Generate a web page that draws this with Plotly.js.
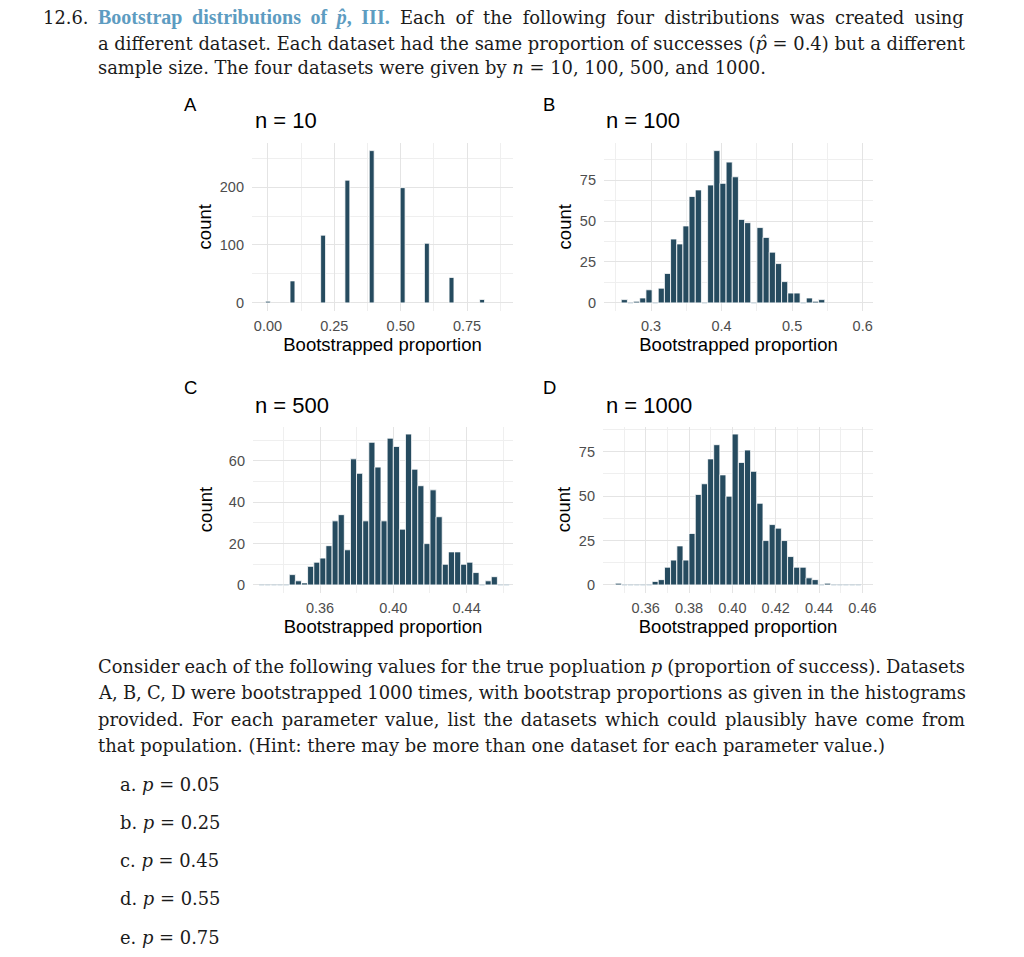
<!DOCTYPE html>
<html><head><meta charset="utf-8">
<script src="https://cdn.plot.ly/plotly-3.0.1.min.js"></script>
<style>html,body{margin:0;padding:0;background:#fff;} #chart{width:1024px;height:957px;}</style>
</head><body><div id="chart"></div>
<script>
// ---------------- data ----------------
// Panel A, n = 10
const binsA   = [0.000, 0.0925, 0.2078, 0.2992, 0.3908, 0.5073, 0.5986, 0.6914, 0.8066];
const countsA = [3, 38, 117, 212, 263, 199, 103, 44, 6];
const binWidthA = 0.0185;

// Panel B, n = 100
const binsB = [0.2622,0.2709,0.2797,0.2884,0.2972,0.3059,0.3146,0.3234,0.3321,0.3409,0.3496,
               0.3583,0.3671,0.3758,0.3846,0.3933,0.4020,0.4108,0.4195,0.4283,0.4370,0.4457,
               0.4545,0.4632,0.4720,0.4807,0.4894,0.4982,0.5069,0.5157,0.5244,0.5331,0.5419];
const countsB = [2,0,1,3,8,0,9,18,39,36,47,
                 65,69,0,72,93,73,86,77,51,49,0,
                 46,40,31,24,13,6,6,0,3,1,2];
const binWidthB = 0.00874;

// Panel C, n = 500
const binsC = [0.3282,0.3315,0.3349,0.3382,0.3416,
               0.3449,0.3482,0.3516,0.3549,0.3583,0.3616,0.3649,0.3683,0.3716,0.3750,
               0.3783,0.3816,0.3850,0.3883,0.3916,0.3950,0.3983,0.4017,0.4050,0.4083,
               0.4117,0.4150,0.4184,0.4217,0.4250,0.4284,0.4317,0.4351,0.4384,0.4417,
               0.4451,0.4484,0.4518,0.4551,0.4584,0.4618];
const countsC = [0,0,0,0,0,
                 5,2,1,9,11,13,19,31,34,17,
                 61,54,31,69,57,31,71,67,27,73,
                 56,48,20,46,33,10,16,16,10,11,
                 6,0,2,4,0,0];
const binWidthC = 0.00334;

// Panel D, n = 1000
const binsD = [0.3474,0.3502,0.3530,0.3559,0.3587,0.3616,0.3644,0.3672,0.3701,0.3729,
               0.3758,0.3786,0.3814,0.3843,0.3871,0.3900,0.3928,0.3956,0.3985,0.4013,
               0.4042,0.4070,0.4098,0.4127,0.4155,0.4184,0.4212,0.4240,0.4269,0.4297,
               0.4326,0.4354,0.4382,0.4411,0.4439,0.4468,0.4496,0.4524,0.4553,0.4581];
const countsD = [1,0,0,0,0,0,2,3,10,14,
                 22,14,29,51,57,71,79,62,50,85,
                 69,76,64,46,25,34,32,25,16,10,
                 10,4,3,0,1,0,0,0,0,0];
const binWidthD = 0.00284;

const panelLetters = ['A','B','C','D'];
const panelTitles  = ['n = 10','n = 100','n = 500','n = 1000'];
const xTitle = 'Bootstrapped proportion';
const yTitle = 'count';

// problem text (segments: '' regular, 'i' italic, 'b' bold blue)
const headerNum = '12.6.';
const headerLines = [
  [['Bootstrap distributions of <i>p̂</i>, III.','b'], [' Each of the following four distributions was created using','']],
  [['a different dataset. Each dataset had the same proportion of successes (',''], ['p̂','i'], [' = 0.4) but a different','']],
  [['sample size. The four datasets were given by ',''], ['n','i'], [' = 10, 100, 500, and 1000.','']]
];
const headerJustify = [true, true, false];
const bodyLines = [
  [['Consider each of the following values for the true popluation ',''], ['p','i'], [' (proportion of success). Datasets','']],
  [['A, B, C, D were bootstrapped 1000 times, with bootstrap proportions as given in the histograms','']],
  [['provided. For each parameter value, list the datasets which could plausibly have come from','']],
  [['that population. (Hint: there may be more than one dataset for each parameter value.)','']]
];
const bodyJustify = [true, true, true, false];
const itemLabels = ['a.','b.','c.','d.','e.'];
const itemValues = ['0.05','0.25','0.45','0.55','0.75'];

// ---------------- styling / layout ----------------
const W = 1024, H = 957;
const fx = p => p / W;
const fy = p => 1 - p / H;
const SANS = 'Liberation Sans, Arial, sans-serif';
const BODY_FONT = 'DejaVu Serif', BODY_SIZE = 17.9;
const BOLD_FONT = 'Liberation Serif', BOLD_SIZE = 20;
const BAR = '#264b5f';
const GRID = '#e4e4e4', GRIDMINOR = '#efefef';
const BLUE = '#5d9cc1';
const TXT = '#1b1b1b';

function histTraces(bins, counts, width, xa, ya) {
  const bx = [], by = [], zx = [], zy = [];
  bins.forEach((c, i) => {
    if (counts[i] > 0) { bx.push(c); by.push(counts[i]); }
    else { zx.push(c - width * 0.42, c + width * 0.42, null); zy.push(0, 0, null); }
  });
  return [
    {type:'bar', x:bx, y:by, width:width, xaxis:xa, yaxis:ya,
     marker:{color:BAR, line:{color:'#ffffff', width:0.8}}, hoverinfo:'skip', showlegend:false},
    {type:'scatter', mode:'lines', x:zx, y:zy, xaxis:xa, yaxis:ya,
     line:{color:'#c8d5dd', width:1.2}, hoverinfo:'skip', showlegend:false}
  ];
}

// minor grid positions halfway between major ticks (avoids doubled lines)
function minorVals(range, step) {
  const out = [];
  for (let k = Math.ceil(range[0] / step); k <= Math.floor(range[1] / step); k++) {
    if (Math.abs(k) % 2 === 1) out.push(Math.round(k * step * 1e9) / 1e9);
  }
  return out;
}

function xAxis(dom, range, dtick, minor, fmt, anchor) {
  return {domain:[fx(dom[0]), fx(dom[1])], range:range, anchor:anchor,
    tick0:0, dtick:dtick, tickformat:fmt, showgrid:true, gridcolor:GRID, gridwidth:1,
    zeroline:false, showline:false, ticks:'', ticklabelstandoff:5,
    tickfont:{family:SANS, size:14.5, color:'#4d4d4d'},
    minor:{tickmode:'array', tickvals:minorVals(range, minor), showgrid:true,
           gridcolor:GRIDMINOR, gridwidth:1, ticks:''},
    title:{text:xTitle, font:{family:SANS, size:18.5, color:'#000'}, standoff:2},
    fixedrange:true};
}
function yAxis(dom, range, dtick, minor, anchor, standoff) {
  return {domain:[fy(dom[1]), fy(dom[0])], range:range, anchor:anchor,
    tick0:0, dtick:dtick, showgrid:true, gridcolor:GRID, gridwidth:1,
    zeroline:false, showline:false, ticks:'', ticklabelstandoff:7,
    tickfont:{family:SANS, size:14.5, color:'#4d4d4d'},
    minor:{tickmode:'array', tickvals:minorVals(range, minor), showgrid:true,
           gridcolor:GRIDMINOR, gridwidth:1, ticks:''},
    title:{text:yTitle, font:{family:SANS, size:18.5, color:'#000'}, standoff:standoff},
    fixedrange:true};
}

const data = [].concat(
  histTraces(binsA, countsA, binWidthA, 'x',  'y'),
  histTraces(binsB, countsB, binWidthB, 'x2', 'y2'),
  histTraces(binsC, countsC, binWidthC, 'x3', 'y3'),
  histTraces(binsD, countsD, binWidthD, 'x4', 'y4')
);

const topRow = [143, 310.5], botRow = [426.5, 592.5];
const layout = {
  width: W, height: H, margin:{l:0, r:0, t:0, b:0},
  paper_bgcolor:'#fff', plot_bgcolor:'#fff', showlegend:false, barmode:'overlay',
  xaxis:  xAxis([252, 513], [-0.060, 0.923], 0.25, 0.125, '.2f', 'y'),
  yaxis:  yAxis(topRow, [-13.15, 276.15], 100, 50, 'x', 2.5),
  xaxis2: xAxis([604, 873], [0.2334, 0.6146], 0.1, 0.05, '.1f', 'y2'),
  yaxis2: yAxis(topRow, [-4.65, 97.65], 25, 12.5, 'x2', 2.5),
  xaxis3: xAxis([253, 513], [0.32345, 0.46529], 0.04, 0.02, '.2f', 'y3'),
  yaxis3: yAxis(botRow, [-3.65, 76.65], 20, 10, 'x3', 10.5),
  xaxis4: xAxis([603, 873], [0.34030, 0.46489], 0.02, 0.01, '.2f', 'y4'),
  yaxis4: yAxis(botRow, [-4.25, 89.25], 25, 12.5, 'x4', 2.5),
  annotations: []
};

function ann(text, xpx, ypx, opts) {
  return Object.assign({text:text, x:fx(xpx), y:fy(ypx), xref:'paper', yref:'paper',
    showarrow:false, xanchor:'left', yanchor:'middle',
    font:{family:BODY_FONT, size:BODY_SIZE, color:TXT}}, opts || {});
}

// justify a text line to a target width with word-spacing (may be negative)
const ctx = document.createElement('canvas').getContext('2d');
function fontFor(kind) {
  if (kind === 'b') return 'bold ' + BOLD_SIZE + 'px "' + BOLD_FONT + '"';
  return (kind === 'i' ? 'italic ' : '') + BODY_SIZE + 'px "' + BODY_FONT + '"';
}
function buildLine(segs, target) {
  let w = 0, nsp = 0;
  segs.forEach(([t, k]) => {
    const plain = t.replace(/<[^>]+>/g, '');
    ctx.font = fontFor(k);
    w += ctx.measureText(plain).width;
    nsp += (plain.match(/ /g) || []).length;
  });
  const ws = (target && nsp) ? (target - w) / nsp : 0;
  const st = 'word-spacing:' + ws.toFixed(2) + 'px';
  return segs.map(([t, k]) => {
    if (k === 'b') return '<span style="color:' + BLUE + ';font-family:' + BOLD_FONT +
      ';font-size:' + BOLD_SIZE + 'px;' + st + '"><b>' + t + '</b></span>';
    if (k === 'i') return '<span style="' + st + '"><i>' + t + '</i></span>';
    return '<span style="' + st + '">' + t + '</span>';
  }).join('');
}

// panel letters and titles
const letterPos = [[190,104],[549,104],[190,388],[549,388]];
const titlePos  = [[253,121],[604,121],[253,405],[604,405]];
panelLetters.forEach((t,i) => layout.annotations.push(ann(t, letterPos[i][0], letterPos[i][1],
  {xanchor:'center', font:{family:SANS, size:18.5, color:'#000'}})));
panelTitles.forEach((t,i) => layout.annotations.push(ann(t, titlePos[i][0], titlePos[i][1],
  {font:{family:SANS, size:22, color:'#000'}})));

const TEXT_LEFT = 96, TEXT_RIGHT = 963;
layout.annotations.push(ann(headerNum, 91, 18, {xanchor:'right'}));
const headerY = [18, 44, 68];
headerLines.forEach((segs,i) => layout.annotations.push(
  ann(buildLine(segs, headerJustify[i] ? TEXT_RIGHT - TEXT_LEFT : 0), TEXT_LEFT, headerY[i])));
const bodyY = [666, 692, 719, 745];
bodyLines.forEach((segs,i) => layout.annotations.push(
  ann(buildLine(segs, bodyJustify[i] ? TEXT_RIGHT - TEXT_LEFT : 0), TEXT_LEFT, bodyY[i])));
const itemY = [784, 822, 860, 898, 937];
itemLabels.forEach((l,i) => layout.annotations.push(
  ann(l + ' <i>p</i> = ' + itemValues[i], 118, itemY[i])));

Plotly.newPlot('chart', data, layout, {staticPlot:true, displayModeBar:false});
</script>
</body></html>
